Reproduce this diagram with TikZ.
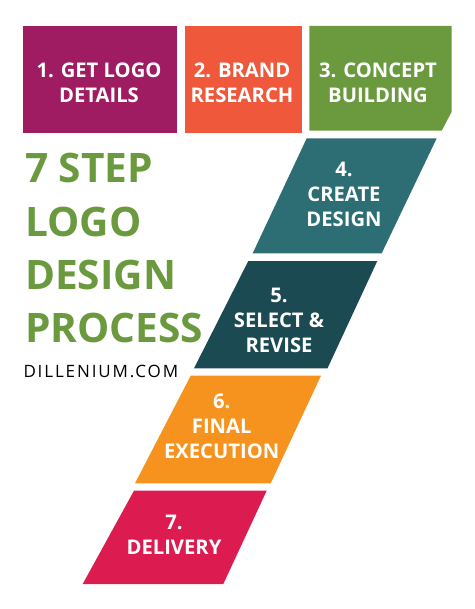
\documentclass[tikz,border=0pt]{standalone}
\usepackage{fontspec}
\setmainfont{Open Sans}
\newfontfamily\sitefont[LetterSpace=11]{Open Sans}
\definecolor{plum}{RGB}{160,28,98}
\definecolor{coral}{RGB}{239,88,58}
\definecolor{leaf}{RGB}{106,153,62}
\definecolor{lagoon}{RGB}{44,110,116}
\definecolor{deepsea}{RGB}{27,74,82}
\definecolor{amber}{RGB}{246,147,30}
\definecolor{crimsonred}{RGB}{220,28,80}

\begin{document}
\begin{tikzpicture}[x=1pt, y=-1pt,
        steptext/.style={text=white, font=\bfseries\fontsize{20.2}{25}\selectfont, align=center, inner sep=0pt},
        headline/.style={text=leaf, font=\bfseries\fontsize{40.6}{53.3}\selectfont, align=left, inner sep=0pt, anchor=north west}]

        \useasboundingbox (0,0) rectangle (474,609);

        \fill[plum] (22.7,26) rectangle (176.7,133.3);
        \fill[coral] (185,26) rectangle (301.7,133.3);
        \fill[leaf] (309.3,26) -- (451.7,26) -- (451.7,111.7) -- (441.7,130.7) -- (309.3,130.7) -- cycle;
        \fill[lagoon] (306.7,138.3) -- (436.7,138.3) -- (381.7,253.3) -- (252.7,253.3) -- cycle;
        \fill[deepsea] (248.3,261) -- (377.3,261) -- (327.5,368.3) -- (194,368.3) -- cycle;
        \fill[amber] (190.7,375.7) -- (321,375.7) -- (270.7,483.3) -- (135,483.3) -- cycle;
        \fill[crimsonred] (134,490.7) -- (266.7,490.7) -- (223.3,584) -- (82.7,584) -- cycle;

        \node[steptext] (details) at (99,83) {1. GET LOGO\\DETAILS};
        \node[steptext] (research) at (242,83) {2. BRAND\\RESEARCH};
        \node[steptext] (concept) at (378,83) {3. CONCEPT\\BUILDING};
        \node[steptext] (create) at (344,194.7) {4.\\CREATE\\DESIGN};
        \node[steptext] (revise) at (279,320) {5.\\SELECT \&\\REVISE};
        \node[steptext] (execution) at (221.7,426) {6.\\FINAL\\EXECUTION};
        \node[steptext] (delivery) at (174,534.5) {7.\\DELIVERY};

        \node[headline] (title) at (25,153.3) {7 STEP\\LOGO\\DESIGN\\PROCESS};
        \node[inner sep=0pt, anchor=north west, font=\sitefont\fontsize{17}{20}\selectfont] (site) at (23.3,365) {DILLENIUM.COM};
    \end{tikzpicture}
\end{document}
